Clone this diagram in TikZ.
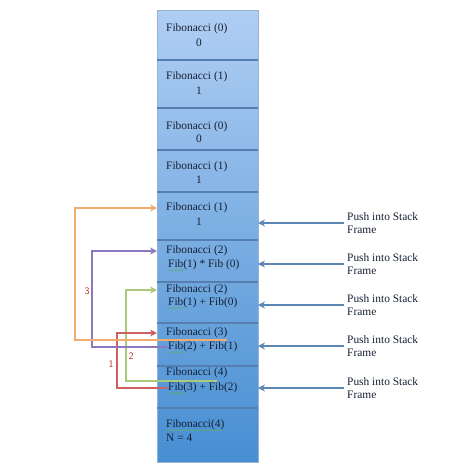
\documentclass[tikz,border=0pt]{standalone}
\usepackage{fontspec}
\setmainfont{Liberation Serif}
\usepackage{tikz}
\usetikzlibrary{arrows.meta,decorations.pathmorphing}
\pgfdeclarelayer{bg}
\pgfsetlayers{bg,main}

\definecolor{stacktop}{RGB}{176,206,243}
\definecolor{stackbot}{RGB}{70,142,210}
\definecolor{divline}{RGB}{86,126,176}
\definecolor{colborder}{RGB}{150,178,212}
\definecolor{pusharrow}{RGB}{92,134,182}
\definecolor{txtcol}{RGB}{22,32,52}
\definecolor{callorange}{RGB}{241,172,112}
\definecolor{callpurple}{RGB}{140,120,190}
\definecolor{callgreen}{RGB}{168,202,122}
\definecolor{callred}{RGB}{206,96,96}
\definecolor{numred}{RGB}{200,40,40}
\definecolor{spellgreen}{RGB}{96,172,110}

\begin{document}
\begin{tikzpicture}[x=1pt,y=-1pt,
		every node/.style={font=\fontsize{11.4}{13}\selectfont, text=txtcol, inner sep=1pt},
		frame/.style={minimum width=101pt, inner sep=0pt, outer sep=0pt},
		divider/.style={divline, line width=1.5pt},
		call/.style={line width=1.7pt, -{Stealth[length=7pt,width=7pt]}},
		push/.style={line width=1.5pt, pusharrow, -{Stealth[length=7pt,width=7pt]}},
		pushtext/.style={anchor=west, align=left, inner sep=3pt},
		num/.style={text=numred, font=\sffamily\fontsize{10}{12}\selectfont},
		squiggle/.style={spellgreen, line width=0.5pt, decorate,
			decoration={snake, amplitude=0.6pt, segment length=2.5pt}}]
		\useasboundingbox (0,0) rectangle (474,474);

		%% The stack frames, top to bottom
		\foreach \a/\b/\n in {10/60/1, 60/108/2, 108/150/3, 150/192/4, 192/240/5,
				240/282/6, 282/323/7, 323/366/8, 366/408/9, 408/462/10}
		{
			\pgfmathsetmacro{\h}{\b-\a}
			\node[frame, minimum height=\h pt] (fr\n) at (207.5,{(\a+\b)/2}) {};
		}
		\begin{pgfonlayer}{bg}
			\shade[top color=stacktop, bottom color=stackbot] (fr1.north west) rectangle (fr10.south east);
		\end{pgfonlayer}
		\draw[colborder, line width=0.6pt] (fr1.north west) rectangle (fr10.south east);
		\foreach \n in {2,...,10}
			\draw[divider] (fr\n.north west) -- (fr\n.north east);

		%% Frame texts
		\foreach \n/\y/\t in {1/29/Fibonacci (0), 2/77/Fibonacci (1), 3/127/Fibonacci (0),
				4/167/Fibonacci (1), 5/208/Fibonacci (1), 6/251/Fibonacci (2),
				7/290/Fibonacci (2), 8/333/Fibonacci (3), 9/373/Fibonacci (4), 10/425/Fibonacci(4)}
			\node[anchor=west] (t\n) at (165,\y) {\t};
		\foreach \n/\y/\v in {1/43/0, 2/91/1, 3/139/0, 4/180/1, 5/222/1}
			\node (s\n) at (199,\y) {\v};
		\node[anchor=west] (s6) at (167,265) {Fib(1) * Fib (0)};
		\node[anchor=west] (s7) at (167,303) {Fib(1) + Fib(0)};
		\node[anchor=west] (s8) at (167,347) {Fib(2) + Fib(1)};
		\node[anchor=west] (s9) at (167,388) {Fib(3) + Fib(2)};
		\node[anchor=west] (s10) at (165,438) {N = 4};

		% spell-check marks
		\foreach \n in {6,...,9}
			\draw[squiggle] (s\n.base west) ++(1,2.5) -- ++(17,0);
		\draw[squiggle] (t10.base west) ++(1,2.5) -- ++(56,0);

		%% Recursive calls on the left
		\coordinate (lane3) at (75,0);
		\coordinate (lane2) at (92,0);
		\coordinate (lane1) at (117,0);
		\coordinate (lane0) at (126,0);
		\coordinate (o8) at (227,340);
		\coordinate (g9) at (217,381);
		\draw[call, callgreen] (g9) -- (g9 -| lane0) |- (fr7.west |- t7.west);
		\draw[call, callred] (s9.west) -- (s9.west -| lane1) |- (fr8.west |- t8.west);
		\draw[call, callpurple] (s8.west) -- (s8.west -| lane2) |- (fr6.west |- t6.west);
		\draw[call, callorange] (o8) -- (o8 -| lane3) |- (fr5.west |- t5.west);
		\node[num] (n3) at (87,291) {3};
		\node[num] (n2) at (131,356) {2};
		\node[num] (n1) at (111,364) {1};

		%% Pushes on the right
		\foreach \n/\y in {5/223, 6/264, 7/305, 8/346, 9/388}
		{
			\node[pushtext] (p\n) at (344,\y) {Push into Stack\\Frame};
			\draw[push] (p\n.west) -- (fr\n.east |- p\n.west);
		}
	\end{tikzpicture}
\end{document}
